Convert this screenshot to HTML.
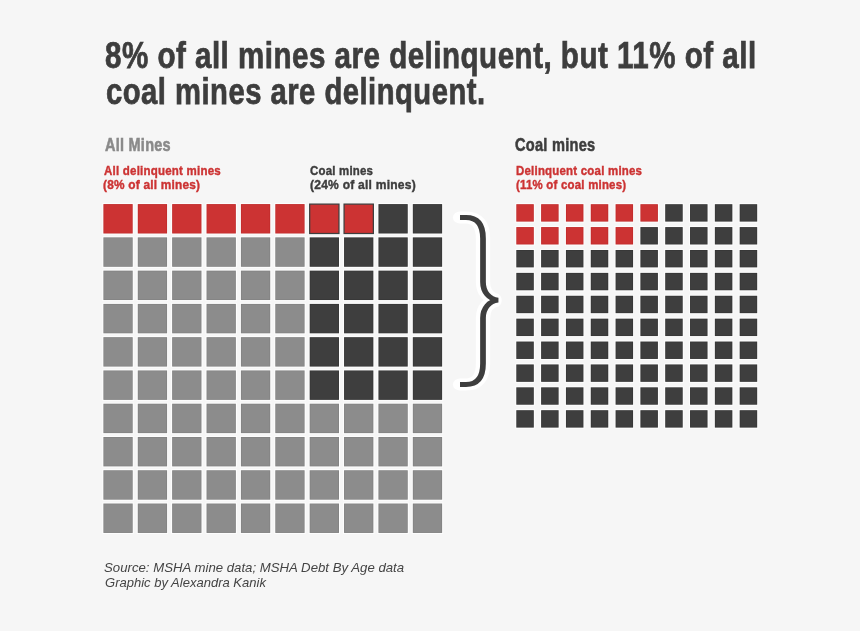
<!DOCTYPE html>
<html><head><meta charset="utf-8"><title>Delinquent mines</title>
<style>
html,body{margin:0;padding:0;background:#f6f6f6;width:860px;height:631px;overflow:hidden}
body{position:relative;font-family:"Liberation Sans",Arial,sans-serif}
.t{position:absolute;white-space:nowrap;transform-origin:0 0;margin:0;font-weight:normal}
</style></head><body>
<svg width="860" height="631" viewBox="0 0 860 631" style="position:absolute;left:0;top:0">
<defs><filter id="bl" x="-20%" y="-5%" width="140%" height="110%"><feGaussianBlur stdDeviation="0.6"/></filter></defs>
<g opacity="0.85"><rect x="102.40" y="203.10" width="31.30" height="31.40" fill="#fff"/><rect x="136.78" y="203.10" width="31.30" height="31.40" fill="#fff"/><rect x="171.16" y="203.10" width="31.30" height="31.40" fill="#fff"/><rect x="205.54" y="203.10" width="31.30" height="31.40" fill="#fff"/><rect x="239.92" y="203.10" width="31.30" height="31.40" fill="#fff"/><rect x="274.30" y="203.10" width="31.30" height="31.40" fill="#fff"/><rect x="308.68" y="203.10" width="31.30" height="31.40" fill="#fff"/><rect x="343.06" y="203.10" width="31.30" height="31.40" fill="#fff"/><rect x="377.44" y="203.10" width="31.30" height="31.40" fill="#fff"/><rect x="411.82" y="203.10" width="31.30" height="31.40" fill="#fff"/><rect x="102.40" y="236.37" width="31.30" height="31.40" fill="#fff"/><rect x="136.78" y="236.37" width="31.30" height="31.40" fill="#fff"/><rect x="171.16" y="236.37" width="31.30" height="31.40" fill="#fff"/><rect x="205.54" y="236.37" width="31.30" height="31.40" fill="#fff"/><rect x="239.92" y="236.37" width="31.30" height="31.40" fill="#fff"/><rect x="274.30" y="236.37" width="31.30" height="31.40" fill="#fff"/><rect x="308.68" y="236.37" width="31.30" height="31.40" fill="#fff"/><rect x="343.06" y="236.37" width="31.30" height="31.40" fill="#fff"/><rect x="377.44" y="236.37" width="31.30" height="31.40" fill="#fff"/><rect x="411.82" y="236.37" width="31.30" height="31.40" fill="#fff"/><rect x="102.40" y="269.64" width="31.30" height="31.40" fill="#fff"/><rect x="136.78" y="269.64" width="31.30" height="31.40" fill="#fff"/><rect x="171.16" y="269.64" width="31.30" height="31.40" fill="#fff"/><rect x="205.54" y="269.64" width="31.30" height="31.40" fill="#fff"/><rect x="239.92" y="269.64" width="31.30" height="31.40" fill="#fff"/><rect x="274.30" y="269.64" width="31.30" height="31.40" fill="#fff"/><rect x="308.68" y="269.64" width="31.30" height="31.40" fill="#fff"/><rect x="343.06" y="269.64" width="31.30" height="31.40" fill="#fff"/><rect x="377.44" y="269.64" width="31.30" height="31.40" fill="#fff"/><rect x="411.82" y="269.64" width="31.30" height="31.40" fill="#fff"/><rect x="102.40" y="302.91" width="31.30" height="31.40" fill="#fff"/><rect x="136.78" y="302.91" width="31.30" height="31.40" fill="#fff"/><rect x="171.16" y="302.91" width="31.30" height="31.40" fill="#fff"/><rect x="205.54" y="302.91" width="31.30" height="31.40" fill="#fff"/><rect x="239.92" y="302.91" width="31.30" height="31.40" fill="#fff"/><rect x="274.30" y="302.91" width="31.30" height="31.40" fill="#fff"/><rect x="308.68" y="302.91" width="31.30" height="31.40" fill="#fff"/><rect x="343.06" y="302.91" width="31.30" height="31.40" fill="#fff"/><rect x="377.44" y="302.91" width="31.30" height="31.40" fill="#fff"/><rect x="411.82" y="302.91" width="31.30" height="31.40" fill="#fff"/><rect x="102.40" y="336.18" width="31.30" height="31.40" fill="#fff"/><rect x="136.78" y="336.18" width="31.30" height="31.40" fill="#fff"/><rect x="171.16" y="336.18" width="31.30" height="31.40" fill="#fff"/><rect x="205.54" y="336.18" width="31.30" height="31.40" fill="#fff"/><rect x="239.92" y="336.18" width="31.30" height="31.40" fill="#fff"/><rect x="274.30" y="336.18" width="31.30" height="31.40" fill="#fff"/><rect x="308.68" y="336.18" width="31.30" height="31.40" fill="#fff"/><rect x="343.06" y="336.18" width="31.30" height="31.40" fill="#fff"/><rect x="377.44" y="336.18" width="31.30" height="31.40" fill="#fff"/><rect x="411.82" y="336.18" width="31.30" height="31.40" fill="#fff"/><rect x="102.40" y="369.45" width="31.30" height="31.40" fill="#fff"/><rect x="136.78" y="369.45" width="31.30" height="31.40" fill="#fff"/><rect x="171.16" y="369.45" width="31.30" height="31.40" fill="#fff"/><rect x="205.54" y="369.45" width="31.30" height="31.40" fill="#fff"/><rect x="239.92" y="369.45" width="31.30" height="31.40" fill="#fff"/><rect x="274.30" y="369.45" width="31.30" height="31.40" fill="#fff"/><rect x="308.68" y="369.45" width="31.30" height="31.40" fill="#fff"/><rect x="343.06" y="369.45" width="31.30" height="31.40" fill="#fff"/><rect x="377.44" y="369.45" width="31.30" height="31.40" fill="#fff"/><rect x="411.82" y="369.45" width="31.30" height="31.40" fill="#fff"/><rect x="102.40" y="402.72" width="31.30" height="31.40" fill="#fff"/><rect x="136.78" y="402.72" width="31.30" height="31.40" fill="#fff"/><rect x="171.16" y="402.72" width="31.30" height="31.40" fill="#fff"/><rect x="205.54" y="402.72" width="31.30" height="31.40" fill="#fff"/><rect x="239.92" y="402.72" width="31.30" height="31.40" fill="#fff"/><rect x="274.30" y="402.72" width="31.30" height="31.40" fill="#fff"/><rect x="308.68" y="402.72" width="31.30" height="31.40" fill="#fff"/><rect x="343.06" y="402.72" width="31.30" height="31.40" fill="#fff"/><rect x="377.44" y="402.72" width="31.30" height="31.40" fill="#fff"/><rect x="411.82" y="402.72" width="31.30" height="31.40" fill="#fff"/><rect x="102.40" y="435.99" width="31.30" height="31.40" fill="#fff"/><rect x="136.78" y="435.99" width="31.30" height="31.40" fill="#fff"/><rect x="171.16" y="435.99" width="31.30" height="31.40" fill="#fff"/><rect x="205.54" y="435.99" width="31.30" height="31.40" fill="#fff"/><rect x="239.92" y="435.99" width="31.30" height="31.40" fill="#fff"/><rect x="274.30" y="435.99" width="31.30" height="31.40" fill="#fff"/><rect x="308.68" y="435.99" width="31.30" height="31.40" fill="#fff"/><rect x="343.06" y="435.99" width="31.30" height="31.40" fill="#fff"/><rect x="377.44" y="435.99" width="31.30" height="31.40" fill="#fff"/><rect x="411.82" y="435.99" width="31.30" height="31.40" fill="#fff"/><rect x="102.40" y="469.26" width="31.30" height="31.40" fill="#fff"/><rect x="136.78" y="469.26" width="31.30" height="31.40" fill="#fff"/><rect x="171.16" y="469.26" width="31.30" height="31.40" fill="#fff"/><rect x="205.54" y="469.26" width="31.30" height="31.40" fill="#fff"/><rect x="239.92" y="469.26" width="31.30" height="31.40" fill="#fff"/><rect x="274.30" y="469.26" width="31.30" height="31.40" fill="#fff"/><rect x="308.68" y="469.26" width="31.30" height="31.40" fill="#fff"/><rect x="343.06" y="469.26" width="31.30" height="31.40" fill="#fff"/><rect x="377.44" y="469.26" width="31.30" height="31.40" fill="#fff"/><rect x="411.82" y="469.26" width="31.30" height="31.40" fill="#fff"/><rect x="102.40" y="502.53" width="31.30" height="31.40" fill="#fff"/><rect x="136.78" y="502.53" width="31.30" height="31.40" fill="#fff"/><rect x="171.16" y="502.53" width="31.30" height="31.40" fill="#fff"/><rect x="205.54" y="502.53" width="31.30" height="31.40" fill="#fff"/><rect x="239.92" y="502.53" width="31.30" height="31.40" fill="#fff"/><rect x="274.30" y="502.53" width="31.30" height="31.40" fill="#fff"/><rect x="308.68" y="502.53" width="31.30" height="31.40" fill="#fff"/><rect x="343.06" y="502.53" width="31.30" height="31.40" fill="#fff"/><rect x="377.44" y="502.53" width="31.30" height="31.40" fill="#fff"/><rect x="411.82" y="502.53" width="31.30" height="31.40" fill="#fff"/><rect x="515.30" y="203.20" width="19.50" height="19.40" fill="#fff"/><rect x="540.12" y="203.20" width="19.50" height="19.40" fill="#fff"/><rect x="564.94" y="203.20" width="19.50" height="19.40" fill="#fff"/><rect x="589.76" y="203.20" width="19.50" height="19.40" fill="#fff"/><rect x="614.58" y="203.20" width="19.50" height="19.40" fill="#fff"/><rect x="639.40" y="203.20" width="19.50" height="19.40" fill="#fff"/><rect x="664.22" y="203.20" width="19.50" height="19.40" fill="#fff"/><rect x="689.04" y="203.20" width="19.50" height="19.40" fill="#fff"/><rect x="713.86" y="203.20" width="19.50" height="19.40" fill="#fff"/><rect x="738.68" y="203.20" width="19.50" height="19.40" fill="#fff"/><rect x="515.30" y="226.09" width="19.50" height="19.40" fill="#fff"/><rect x="540.12" y="226.09" width="19.50" height="19.40" fill="#fff"/><rect x="564.94" y="226.09" width="19.50" height="19.40" fill="#fff"/><rect x="589.76" y="226.09" width="19.50" height="19.40" fill="#fff"/><rect x="614.58" y="226.09" width="19.50" height="19.40" fill="#fff"/><rect x="639.40" y="226.09" width="19.50" height="19.40" fill="#fff"/><rect x="664.22" y="226.09" width="19.50" height="19.40" fill="#fff"/><rect x="689.04" y="226.09" width="19.50" height="19.40" fill="#fff"/><rect x="713.86" y="226.09" width="19.50" height="19.40" fill="#fff"/><rect x="738.68" y="226.09" width="19.50" height="19.40" fill="#fff"/><rect x="515.30" y="248.98" width="19.50" height="19.40" fill="#fff"/><rect x="540.12" y="248.98" width="19.50" height="19.40" fill="#fff"/><rect x="564.94" y="248.98" width="19.50" height="19.40" fill="#fff"/><rect x="589.76" y="248.98" width="19.50" height="19.40" fill="#fff"/><rect x="614.58" y="248.98" width="19.50" height="19.40" fill="#fff"/><rect x="639.40" y="248.98" width="19.50" height="19.40" fill="#fff"/><rect x="664.22" y="248.98" width="19.50" height="19.40" fill="#fff"/><rect x="689.04" y="248.98" width="19.50" height="19.40" fill="#fff"/><rect x="713.86" y="248.98" width="19.50" height="19.40" fill="#fff"/><rect x="738.68" y="248.98" width="19.50" height="19.40" fill="#fff"/><rect x="515.30" y="271.87" width="19.50" height="19.40" fill="#fff"/><rect x="540.12" y="271.87" width="19.50" height="19.40" fill="#fff"/><rect x="564.94" y="271.87" width="19.50" height="19.40" fill="#fff"/><rect x="589.76" y="271.87" width="19.50" height="19.40" fill="#fff"/><rect x="614.58" y="271.87" width="19.50" height="19.40" fill="#fff"/><rect x="639.40" y="271.87" width="19.50" height="19.40" fill="#fff"/><rect x="664.22" y="271.87" width="19.50" height="19.40" fill="#fff"/><rect x="689.04" y="271.87" width="19.50" height="19.40" fill="#fff"/><rect x="713.86" y="271.87" width="19.50" height="19.40" fill="#fff"/><rect x="738.68" y="271.87" width="19.50" height="19.40" fill="#fff"/><rect x="515.30" y="294.76" width="19.50" height="19.40" fill="#fff"/><rect x="540.12" y="294.76" width="19.50" height="19.40" fill="#fff"/><rect x="564.94" y="294.76" width="19.50" height="19.40" fill="#fff"/><rect x="589.76" y="294.76" width="19.50" height="19.40" fill="#fff"/><rect x="614.58" y="294.76" width="19.50" height="19.40" fill="#fff"/><rect x="639.40" y="294.76" width="19.50" height="19.40" fill="#fff"/><rect x="664.22" y="294.76" width="19.50" height="19.40" fill="#fff"/><rect x="689.04" y="294.76" width="19.50" height="19.40" fill="#fff"/><rect x="713.86" y="294.76" width="19.50" height="19.40" fill="#fff"/><rect x="738.68" y="294.76" width="19.50" height="19.40" fill="#fff"/><rect x="515.30" y="317.65" width="19.50" height="19.40" fill="#fff"/><rect x="540.12" y="317.65" width="19.50" height="19.40" fill="#fff"/><rect x="564.94" y="317.65" width="19.50" height="19.40" fill="#fff"/><rect x="589.76" y="317.65" width="19.50" height="19.40" fill="#fff"/><rect x="614.58" y="317.65" width="19.50" height="19.40" fill="#fff"/><rect x="639.40" y="317.65" width="19.50" height="19.40" fill="#fff"/><rect x="664.22" y="317.65" width="19.50" height="19.40" fill="#fff"/><rect x="689.04" y="317.65" width="19.50" height="19.40" fill="#fff"/><rect x="713.86" y="317.65" width="19.50" height="19.40" fill="#fff"/><rect x="738.68" y="317.65" width="19.50" height="19.40" fill="#fff"/><rect x="515.30" y="340.54" width="19.50" height="19.40" fill="#fff"/><rect x="540.12" y="340.54" width="19.50" height="19.40" fill="#fff"/><rect x="564.94" y="340.54" width="19.50" height="19.40" fill="#fff"/><rect x="589.76" y="340.54" width="19.50" height="19.40" fill="#fff"/><rect x="614.58" y="340.54" width="19.50" height="19.40" fill="#fff"/><rect x="639.40" y="340.54" width="19.50" height="19.40" fill="#fff"/><rect x="664.22" y="340.54" width="19.50" height="19.40" fill="#fff"/><rect x="689.04" y="340.54" width="19.50" height="19.40" fill="#fff"/><rect x="713.86" y="340.54" width="19.50" height="19.40" fill="#fff"/><rect x="738.68" y="340.54" width="19.50" height="19.40" fill="#fff"/><rect x="515.30" y="363.43" width="19.50" height="19.40" fill="#fff"/><rect x="540.12" y="363.43" width="19.50" height="19.40" fill="#fff"/><rect x="564.94" y="363.43" width="19.50" height="19.40" fill="#fff"/><rect x="589.76" y="363.43" width="19.50" height="19.40" fill="#fff"/><rect x="614.58" y="363.43" width="19.50" height="19.40" fill="#fff"/><rect x="639.40" y="363.43" width="19.50" height="19.40" fill="#fff"/><rect x="664.22" y="363.43" width="19.50" height="19.40" fill="#fff"/><rect x="689.04" y="363.43" width="19.50" height="19.40" fill="#fff"/><rect x="713.86" y="363.43" width="19.50" height="19.40" fill="#fff"/><rect x="738.68" y="363.43" width="19.50" height="19.40" fill="#fff"/><rect x="515.30" y="386.32" width="19.50" height="19.40" fill="#fff"/><rect x="540.12" y="386.32" width="19.50" height="19.40" fill="#fff"/><rect x="564.94" y="386.32" width="19.50" height="19.40" fill="#fff"/><rect x="589.76" y="386.32" width="19.50" height="19.40" fill="#fff"/><rect x="614.58" y="386.32" width="19.50" height="19.40" fill="#fff"/><rect x="639.40" y="386.32" width="19.50" height="19.40" fill="#fff"/><rect x="664.22" y="386.32" width="19.50" height="19.40" fill="#fff"/><rect x="689.04" y="386.32" width="19.50" height="19.40" fill="#fff"/><rect x="713.86" y="386.32" width="19.50" height="19.40" fill="#fff"/><rect x="738.68" y="386.32" width="19.50" height="19.40" fill="#fff"/><rect x="515.30" y="409.21" width="19.50" height="19.40" fill="#fff"/><rect x="540.12" y="409.21" width="19.50" height="19.40" fill="#fff"/><rect x="564.94" y="409.21" width="19.50" height="19.40" fill="#fff"/><rect x="589.76" y="409.21" width="19.50" height="19.40" fill="#fff"/><rect x="614.58" y="409.21" width="19.50" height="19.40" fill="#fff"/><rect x="639.40" y="409.21" width="19.50" height="19.40" fill="#fff"/><rect x="664.22" y="409.21" width="19.50" height="19.40" fill="#fff"/><rect x="689.04" y="409.21" width="19.50" height="19.40" fill="#fff"/><rect x="713.86" y="409.21" width="19.50" height="19.40" fill="#fff"/><rect x="738.68" y="409.21" width="19.50" height="19.40" fill="#fff"/></g>
<g><rect x="103.40" y="204.10" width="29.30" height="29.40" fill="#c02a2a"/><rect x="104.10" y="204.80" width="27.90" height="28.00" fill="#cc3333"/><rect x="137.78" y="204.10" width="29.30" height="29.40" fill="#c02a2a"/><rect x="138.48" y="204.80" width="27.90" height="28.00" fill="#cc3333"/><rect x="172.16" y="204.10" width="29.30" height="29.40" fill="#c02a2a"/><rect x="172.86" y="204.80" width="27.90" height="28.00" fill="#cc3333"/><rect x="206.54" y="204.10" width="29.30" height="29.40" fill="#c02a2a"/><rect x="207.24" y="204.80" width="27.90" height="28.00" fill="#cc3333"/><rect x="240.92" y="204.10" width="29.30" height="29.40" fill="#c02a2a"/><rect x="241.62" y="204.80" width="27.90" height="28.00" fill="#cc3333"/><rect x="275.30" y="204.10" width="29.30" height="29.40" fill="#c02a2a"/><rect x="276.00" y="204.80" width="27.90" height="28.00" fill="#cc3333"/><rect x="309.68" y="204.10" width="29.30" height="29.40" fill="#cc3333" stroke="#3e3e3e" stroke-width="1.25"/><rect x="344.06" y="204.10" width="29.30" height="29.40" fill="#cc3333" stroke="#3e3e3e" stroke-width="1.25"/><rect x="378.44" y="204.10" width="29.30" height="29.40" fill="#363636"/><rect x="379.14" y="204.80" width="27.90" height="28.00" fill="#3e3e3e"/><rect x="412.82" y="204.10" width="29.30" height="29.40" fill="#363636"/><rect x="413.52" y="204.80" width="27.90" height="28.00" fill="#3e3e3e"/><rect x="103.40" y="237.37" width="29.30" height="29.40" fill="#818181"/><rect x="104.10" y="238.07" width="27.90" height="28.00" fill="#8c8c8c"/><rect x="137.78" y="237.37" width="29.30" height="29.40" fill="#818181"/><rect x="138.48" y="238.07" width="27.90" height="28.00" fill="#8c8c8c"/><rect x="172.16" y="237.37" width="29.30" height="29.40" fill="#818181"/><rect x="172.86" y="238.07" width="27.90" height="28.00" fill="#8c8c8c"/><rect x="206.54" y="237.37" width="29.30" height="29.40" fill="#818181"/><rect x="207.24" y="238.07" width="27.90" height="28.00" fill="#8c8c8c"/><rect x="240.92" y="237.37" width="29.30" height="29.40" fill="#818181"/><rect x="241.62" y="238.07" width="27.90" height="28.00" fill="#8c8c8c"/><rect x="275.30" y="237.37" width="29.30" height="29.40" fill="#818181"/><rect x="276.00" y="238.07" width="27.90" height="28.00" fill="#8c8c8c"/><rect x="309.68" y="237.37" width="29.30" height="29.40" fill="#363636"/><rect x="310.38" y="238.07" width="27.90" height="28.00" fill="#3e3e3e"/><rect x="344.06" y="237.37" width="29.30" height="29.40" fill="#363636"/><rect x="344.76" y="238.07" width="27.90" height="28.00" fill="#3e3e3e"/><rect x="378.44" y="237.37" width="29.30" height="29.40" fill="#363636"/><rect x="379.14" y="238.07" width="27.90" height="28.00" fill="#3e3e3e"/><rect x="412.82" y="237.37" width="29.30" height="29.40" fill="#363636"/><rect x="413.52" y="238.07" width="27.90" height="28.00" fill="#3e3e3e"/><rect x="103.40" y="270.64" width="29.30" height="29.40" fill="#818181"/><rect x="104.10" y="271.34" width="27.90" height="28.00" fill="#8c8c8c"/><rect x="137.78" y="270.64" width="29.30" height="29.40" fill="#818181"/><rect x="138.48" y="271.34" width="27.90" height="28.00" fill="#8c8c8c"/><rect x="172.16" y="270.64" width="29.30" height="29.40" fill="#818181"/><rect x="172.86" y="271.34" width="27.90" height="28.00" fill="#8c8c8c"/><rect x="206.54" y="270.64" width="29.30" height="29.40" fill="#818181"/><rect x="207.24" y="271.34" width="27.90" height="28.00" fill="#8c8c8c"/><rect x="240.92" y="270.64" width="29.30" height="29.40" fill="#818181"/><rect x="241.62" y="271.34" width="27.90" height="28.00" fill="#8c8c8c"/><rect x="275.30" y="270.64" width="29.30" height="29.40" fill="#818181"/><rect x="276.00" y="271.34" width="27.90" height="28.00" fill="#8c8c8c"/><rect x="309.68" y="270.64" width="29.30" height="29.40" fill="#363636"/><rect x="310.38" y="271.34" width="27.90" height="28.00" fill="#3e3e3e"/><rect x="344.06" y="270.64" width="29.30" height="29.40" fill="#363636"/><rect x="344.76" y="271.34" width="27.90" height="28.00" fill="#3e3e3e"/><rect x="378.44" y="270.64" width="29.30" height="29.40" fill="#363636"/><rect x="379.14" y="271.34" width="27.90" height="28.00" fill="#3e3e3e"/><rect x="412.82" y="270.64" width="29.30" height="29.40" fill="#363636"/><rect x="413.52" y="271.34" width="27.90" height="28.00" fill="#3e3e3e"/><rect x="103.40" y="303.91" width="29.30" height="29.40" fill="#818181"/><rect x="104.10" y="304.61" width="27.90" height="28.00" fill="#8c8c8c"/><rect x="137.78" y="303.91" width="29.30" height="29.40" fill="#818181"/><rect x="138.48" y="304.61" width="27.90" height="28.00" fill="#8c8c8c"/><rect x="172.16" y="303.91" width="29.30" height="29.40" fill="#818181"/><rect x="172.86" y="304.61" width="27.90" height="28.00" fill="#8c8c8c"/><rect x="206.54" y="303.91" width="29.30" height="29.40" fill="#818181"/><rect x="207.24" y="304.61" width="27.90" height="28.00" fill="#8c8c8c"/><rect x="240.92" y="303.91" width="29.30" height="29.40" fill="#818181"/><rect x="241.62" y="304.61" width="27.90" height="28.00" fill="#8c8c8c"/><rect x="275.30" y="303.91" width="29.30" height="29.40" fill="#818181"/><rect x="276.00" y="304.61" width="27.90" height="28.00" fill="#8c8c8c"/><rect x="309.68" y="303.91" width="29.30" height="29.40" fill="#363636"/><rect x="310.38" y="304.61" width="27.90" height="28.00" fill="#3e3e3e"/><rect x="344.06" y="303.91" width="29.30" height="29.40" fill="#363636"/><rect x="344.76" y="304.61" width="27.90" height="28.00" fill="#3e3e3e"/><rect x="378.44" y="303.91" width="29.30" height="29.40" fill="#363636"/><rect x="379.14" y="304.61" width="27.90" height="28.00" fill="#3e3e3e"/><rect x="412.82" y="303.91" width="29.30" height="29.40" fill="#363636"/><rect x="413.52" y="304.61" width="27.90" height="28.00" fill="#3e3e3e"/><rect x="103.40" y="337.18" width="29.30" height="29.40" fill="#818181"/><rect x="104.10" y="337.88" width="27.90" height="28.00" fill="#8c8c8c"/><rect x="137.78" y="337.18" width="29.30" height="29.40" fill="#818181"/><rect x="138.48" y="337.88" width="27.90" height="28.00" fill="#8c8c8c"/><rect x="172.16" y="337.18" width="29.30" height="29.40" fill="#818181"/><rect x="172.86" y="337.88" width="27.90" height="28.00" fill="#8c8c8c"/><rect x="206.54" y="337.18" width="29.30" height="29.40" fill="#818181"/><rect x="207.24" y="337.88" width="27.90" height="28.00" fill="#8c8c8c"/><rect x="240.92" y="337.18" width="29.30" height="29.40" fill="#818181"/><rect x="241.62" y="337.88" width="27.90" height="28.00" fill="#8c8c8c"/><rect x="275.30" y="337.18" width="29.30" height="29.40" fill="#818181"/><rect x="276.00" y="337.88" width="27.90" height="28.00" fill="#8c8c8c"/><rect x="309.68" y="337.18" width="29.30" height="29.40" fill="#363636"/><rect x="310.38" y="337.88" width="27.90" height="28.00" fill="#3e3e3e"/><rect x="344.06" y="337.18" width="29.30" height="29.40" fill="#363636"/><rect x="344.76" y="337.88" width="27.90" height="28.00" fill="#3e3e3e"/><rect x="378.44" y="337.18" width="29.30" height="29.40" fill="#363636"/><rect x="379.14" y="337.88" width="27.90" height="28.00" fill="#3e3e3e"/><rect x="412.82" y="337.18" width="29.30" height="29.40" fill="#363636"/><rect x="413.52" y="337.88" width="27.90" height="28.00" fill="#3e3e3e"/><rect x="103.40" y="370.45" width="29.30" height="29.40" fill="#818181"/><rect x="104.10" y="371.15" width="27.90" height="28.00" fill="#8c8c8c"/><rect x="137.78" y="370.45" width="29.30" height="29.40" fill="#818181"/><rect x="138.48" y="371.15" width="27.90" height="28.00" fill="#8c8c8c"/><rect x="172.16" y="370.45" width="29.30" height="29.40" fill="#818181"/><rect x="172.86" y="371.15" width="27.90" height="28.00" fill="#8c8c8c"/><rect x="206.54" y="370.45" width="29.30" height="29.40" fill="#818181"/><rect x="207.24" y="371.15" width="27.90" height="28.00" fill="#8c8c8c"/><rect x="240.92" y="370.45" width="29.30" height="29.40" fill="#818181"/><rect x="241.62" y="371.15" width="27.90" height="28.00" fill="#8c8c8c"/><rect x="275.30" y="370.45" width="29.30" height="29.40" fill="#818181"/><rect x="276.00" y="371.15" width="27.90" height="28.00" fill="#8c8c8c"/><rect x="309.68" y="370.45" width="29.30" height="29.40" fill="#363636"/><rect x="310.38" y="371.15" width="27.90" height="28.00" fill="#3e3e3e"/><rect x="344.06" y="370.45" width="29.30" height="29.40" fill="#363636"/><rect x="344.76" y="371.15" width="27.90" height="28.00" fill="#3e3e3e"/><rect x="378.44" y="370.45" width="29.30" height="29.40" fill="#363636"/><rect x="379.14" y="371.15" width="27.90" height="28.00" fill="#3e3e3e"/><rect x="412.82" y="370.45" width="29.30" height="29.40" fill="#363636"/><rect x="413.52" y="371.15" width="27.90" height="28.00" fill="#3e3e3e"/><rect x="103.40" y="403.72" width="29.30" height="29.40" fill="#818181"/><rect x="104.10" y="404.42" width="27.90" height="28.00" fill="#8c8c8c"/><rect x="137.78" y="403.72" width="29.30" height="29.40" fill="#818181"/><rect x="138.48" y="404.42" width="27.90" height="28.00" fill="#8c8c8c"/><rect x="172.16" y="403.72" width="29.30" height="29.40" fill="#818181"/><rect x="172.86" y="404.42" width="27.90" height="28.00" fill="#8c8c8c"/><rect x="206.54" y="403.72" width="29.30" height="29.40" fill="#818181"/><rect x="207.24" y="404.42" width="27.90" height="28.00" fill="#8c8c8c"/><rect x="240.92" y="403.72" width="29.30" height="29.40" fill="#818181"/><rect x="241.62" y="404.42" width="27.90" height="28.00" fill="#8c8c8c"/><rect x="275.30" y="403.72" width="29.30" height="29.40" fill="#818181"/><rect x="276.00" y="404.42" width="27.90" height="28.00" fill="#8c8c8c"/><rect x="309.68" y="403.72" width="29.30" height="29.40" fill="#818181"/><rect x="310.38" y="404.42" width="27.90" height="28.00" fill="#8c8c8c"/><rect x="344.06" y="403.72" width="29.30" height="29.40" fill="#818181"/><rect x="344.76" y="404.42" width="27.90" height="28.00" fill="#8c8c8c"/><rect x="378.44" y="403.72" width="29.30" height="29.40" fill="#818181"/><rect x="379.14" y="404.42" width="27.90" height="28.00" fill="#8c8c8c"/><rect x="412.82" y="403.72" width="29.30" height="29.40" fill="#818181"/><rect x="413.52" y="404.42" width="27.90" height="28.00" fill="#8c8c8c"/><rect x="103.40" y="436.99" width="29.30" height="29.40" fill="#818181"/><rect x="104.10" y="437.69" width="27.90" height="28.00" fill="#8c8c8c"/><rect x="137.78" y="436.99" width="29.30" height="29.40" fill="#818181"/><rect x="138.48" y="437.69" width="27.90" height="28.00" fill="#8c8c8c"/><rect x="172.16" y="436.99" width="29.30" height="29.40" fill="#818181"/><rect x="172.86" y="437.69" width="27.90" height="28.00" fill="#8c8c8c"/><rect x="206.54" y="436.99" width="29.30" height="29.40" fill="#818181"/><rect x="207.24" y="437.69" width="27.90" height="28.00" fill="#8c8c8c"/><rect x="240.92" y="436.99" width="29.30" height="29.40" fill="#818181"/><rect x="241.62" y="437.69" width="27.90" height="28.00" fill="#8c8c8c"/><rect x="275.30" y="436.99" width="29.30" height="29.40" fill="#818181"/><rect x="276.00" y="437.69" width="27.90" height="28.00" fill="#8c8c8c"/><rect x="309.68" y="436.99" width="29.30" height="29.40" fill="#818181"/><rect x="310.38" y="437.69" width="27.90" height="28.00" fill="#8c8c8c"/><rect x="344.06" y="436.99" width="29.30" height="29.40" fill="#818181"/><rect x="344.76" y="437.69" width="27.90" height="28.00" fill="#8c8c8c"/><rect x="378.44" y="436.99" width="29.30" height="29.40" fill="#818181"/><rect x="379.14" y="437.69" width="27.90" height="28.00" fill="#8c8c8c"/><rect x="412.82" y="436.99" width="29.30" height="29.40" fill="#818181"/><rect x="413.52" y="437.69" width="27.90" height="28.00" fill="#8c8c8c"/><rect x="103.40" y="470.26" width="29.30" height="29.40" fill="#818181"/><rect x="104.10" y="470.96" width="27.90" height="28.00" fill="#8c8c8c"/><rect x="137.78" y="470.26" width="29.30" height="29.40" fill="#818181"/><rect x="138.48" y="470.96" width="27.90" height="28.00" fill="#8c8c8c"/><rect x="172.16" y="470.26" width="29.30" height="29.40" fill="#818181"/><rect x="172.86" y="470.96" width="27.90" height="28.00" fill="#8c8c8c"/><rect x="206.54" y="470.26" width="29.30" height="29.40" fill="#818181"/><rect x="207.24" y="470.96" width="27.90" height="28.00" fill="#8c8c8c"/><rect x="240.92" y="470.26" width="29.30" height="29.40" fill="#818181"/><rect x="241.62" y="470.96" width="27.90" height="28.00" fill="#8c8c8c"/><rect x="275.30" y="470.26" width="29.30" height="29.40" fill="#818181"/><rect x="276.00" y="470.96" width="27.90" height="28.00" fill="#8c8c8c"/><rect x="309.68" y="470.26" width="29.30" height="29.40" fill="#818181"/><rect x="310.38" y="470.96" width="27.90" height="28.00" fill="#8c8c8c"/><rect x="344.06" y="470.26" width="29.30" height="29.40" fill="#818181"/><rect x="344.76" y="470.96" width="27.90" height="28.00" fill="#8c8c8c"/><rect x="378.44" y="470.26" width="29.30" height="29.40" fill="#818181"/><rect x="379.14" y="470.96" width="27.90" height="28.00" fill="#8c8c8c"/><rect x="412.82" y="470.26" width="29.30" height="29.40" fill="#818181"/><rect x="413.52" y="470.96" width="27.90" height="28.00" fill="#8c8c8c"/><rect x="103.40" y="503.53" width="29.30" height="29.40" fill="#818181"/><rect x="104.10" y="504.23" width="27.90" height="28.00" fill="#8c8c8c"/><rect x="137.78" y="503.53" width="29.30" height="29.40" fill="#818181"/><rect x="138.48" y="504.23" width="27.90" height="28.00" fill="#8c8c8c"/><rect x="172.16" y="503.53" width="29.30" height="29.40" fill="#818181"/><rect x="172.86" y="504.23" width="27.90" height="28.00" fill="#8c8c8c"/><rect x="206.54" y="503.53" width="29.30" height="29.40" fill="#818181"/><rect x="207.24" y="504.23" width="27.90" height="28.00" fill="#8c8c8c"/><rect x="240.92" y="503.53" width="29.30" height="29.40" fill="#818181"/><rect x="241.62" y="504.23" width="27.90" height="28.00" fill="#8c8c8c"/><rect x="275.30" y="503.53" width="29.30" height="29.40" fill="#818181"/><rect x="276.00" y="504.23" width="27.90" height="28.00" fill="#8c8c8c"/><rect x="309.68" y="503.53" width="29.30" height="29.40" fill="#818181"/><rect x="310.38" y="504.23" width="27.90" height="28.00" fill="#8c8c8c"/><rect x="344.06" y="503.53" width="29.30" height="29.40" fill="#818181"/><rect x="344.76" y="504.23" width="27.90" height="28.00" fill="#8c8c8c"/><rect x="378.44" y="503.53" width="29.30" height="29.40" fill="#818181"/><rect x="379.14" y="504.23" width="27.90" height="28.00" fill="#8c8c8c"/><rect x="412.82" y="503.53" width="29.30" height="29.40" fill="#818181"/><rect x="413.52" y="504.23" width="27.90" height="28.00" fill="#8c8c8c"/><rect x="516.30" y="204.20" width="17.50" height="17.40" fill="#c02a2a"/><rect x="517.00" y="204.90" width="16.10" height="16.00" fill="#cc3333"/><rect x="541.12" y="204.20" width="17.50" height="17.40" fill="#c02a2a"/><rect x="541.82" y="204.90" width="16.10" height="16.00" fill="#cc3333"/><rect x="565.94" y="204.20" width="17.50" height="17.40" fill="#c02a2a"/><rect x="566.64" y="204.90" width="16.10" height="16.00" fill="#cc3333"/><rect x="590.76" y="204.20" width="17.50" height="17.40" fill="#c02a2a"/><rect x="591.46" y="204.90" width="16.10" height="16.00" fill="#cc3333"/><rect x="615.58" y="204.20" width="17.50" height="17.40" fill="#c02a2a"/><rect x="616.28" y="204.90" width="16.10" height="16.00" fill="#cc3333"/><rect x="640.40" y="204.20" width="17.50" height="17.40" fill="#c02a2a"/><rect x="641.10" y="204.90" width="16.10" height="16.00" fill="#cc3333"/><rect x="665.22" y="204.20" width="17.50" height="17.40" fill="#363636"/><rect x="665.92" y="204.90" width="16.10" height="16.00" fill="#3e3e3e"/><rect x="690.04" y="204.20" width="17.50" height="17.40" fill="#363636"/><rect x="690.74" y="204.90" width="16.10" height="16.00" fill="#3e3e3e"/><rect x="714.86" y="204.20" width="17.50" height="17.40" fill="#363636"/><rect x="715.56" y="204.90" width="16.10" height="16.00" fill="#3e3e3e"/><rect x="739.68" y="204.20" width="17.50" height="17.40" fill="#363636"/><rect x="740.38" y="204.90" width="16.10" height="16.00" fill="#3e3e3e"/><rect x="516.30" y="227.09" width="17.50" height="17.40" fill="#c02a2a"/><rect x="517.00" y="227.79" width="16.10" height="16.00" fill="#cc3333"/><rect x="541.12" y="227.09" width="17.50" height="17.40" fill="#c02a2a"/><rect x="541.82" y="227.79" width="16.10" height="16.00" fill="#cc3333"/><rect x="565.94" y="227.09" width="17.50" height="17.40" fill="#c02a2a"/><rect x="566.64" y="227.79" width="16.10" height="16.00" fill="#cc3333"/><rect x="590.76" y="227.09" width="17.50" height="17.40" fill="#c02a2a"/><rect x="591.46" y="227.79" width="16.10" height="16.00" fill="#cc3333"/><rect x="615.58" y="227.09" width="17.50" height="17.40" fill="#c02a2a"/><rect x="616.28" y="227.79" width="16.10" height="16.00" fill="#cc3333"/><rect x="640.40" y="227.09" width="17.50" height="17.40" fill="#363636"/><rect x="641.10" y="227.79" width="16.10" height="16.00" fill="#3e3e3e"/><rect x="665.22" y="227.09" width="17.50" height="17.40" fill="#363636"/><rect x="665.92" y="227.79" width="16.10" height="16.00" fill="#3e3e3e"/><rect x="690.04" y="227.09" width="17.50" height="17.40" fill="#363636"/><rect x="690.74" y="227.79" width="16.10" height="16.00" fill="#3e3e3e"/><rect x="714.86" y="227.09" width="17.50" height="17.40" fill="#363636"/><rect x="715.56" y="227.79" width="16.10" height="16.00" fill="#3e3e3e"/><rect x="739.68" y="227.09" width="17.50" height="17.40" fill="#363636"/><rect x="740.38" y="227.79" width="16.10" height="16.00" fill="#3e3e3e"/><rect x="516.30" y="249.98" width="17.50" height="17.40" fill="#363636"/><rect x="517.00" y="250.68" width="16.10" height="16.00" fill="#3e3e3e"/><rect x="541.12" y="249.98" width="17.50" height="17.40" fill="#363636"/><rect x="541.82" y="250.68" width="16.10" height="16.00" fill="#3e3e3e"/><rect x="565.94" y="249.98" width="17.50" height="17.40" fill="#363636"/><rect x="566.64" y="250.68" width="16.10" height="16.00" fill="#3e3e3e"/><rect x="590.76" y="249.98" width="17.50" height="17.40" fill="#363636"/><rect x="591.46" y="250.68" width="16.10" height="16.00" fill="#3e3e3e"/><rect x="615.58" y="249.98" width="17.50" height="17.40" fill="#363636"/><rect x="616.28" y="250.68" width="16.10" height="16.00" fill="#3e3e3e"/><rect x="640.40" y="249.98" width="17.50" height="17.40" fill="#363636"/><rect x="641.10" y="250.68" width="16.10" height="16.00" fill="#3e3e3e"/><rect x="665.22" y="249.98" width="17.50" height="17.40" fill="#363636"/><rect x="665.92" y="250.68" width="16.10" height="16.00" fill="#3e3e3e"/><rect x="690.04" y="249.98" width="17.50" height="17.40" fill="#363636"/><rect x="690.74" y="250.68" width="16.10" height="16.00" fill="#3e3e3e"/><rect x="714.86" y="249.98" width="17.50" height="17.40" fill="#363636"/><rect x="715.56" y="250.68" width="16.10" height="16.00" fill="#3e3e3e"/><rect x="739.68" y="249.98" width="17.50" height="17.40" fill="#363636"/><rect x="740.38" y="250.68" width="16.10" height="16.00" fill="#3e3e3e"/><rect x="516.30" y="272.87" width="17.50" height="17.40" fill="#363636"/><rect x="517.00" y="273.57" width="16.10" height="16.00" fill="#3e3e3e"/><rect x="541.12" y="272.87" width="17.50" height="17.40" fill="#363636"/><rect x="541.82" y="273.57" width="16.10" height="16.00" fill="#3e3e3e"/><rect x="565.94" y="272.87" width="17.50" height="17.40" fill="#363636"/><rect x="566.64" y="273.57" width="16.10" height="16.00" fill="#3e3e3e"/><rect x="590.76" y="272.87" width="17.50" height="17.40" fill="#363636"/><rect x="591.46" y="273.57" width="16.10" height="16.00" fill="#3e3e3e"/><rect x="615.58" y="272.87" width="17.50" height="17.40" fill="#363636"/><rect x="616.28" y="273.57" width="16.10" height="16.00" fill="#3e3e3e"/><rect x="640.40" y="272.87" width="17.50" height="17.40" fill="#363636"/><rect x="641.10" y="273.57" width="16.10" height="16.00" fill="#3e3e3e"/><rect x="665.22" y="272.87" width="17.50" height="17.40" fill="#363636"/><rect x="665.92" y="273.57" width="16.10" height="16.00" fill="#3e3e3e"/><rect x="690.04" y="272.87" width="17.50" height="17.40" fill="#363636"/><rect x="690.74" y="273.57" width="16.10" height="16.00" fill="#3e3e3e"/><rect x="714.86" y="272.87" width="17.50" height="17.40" fill="#363636"/><rect x="715.56" y="273.57" width="16.10" height="16.00" fill="#3e3e3e"/><rect x="739.68" y="272.87" width="17.50" height="17.40" fill="#363636"/><rect x="740.38" y="273.57" width="16.10" height="16.00" fill="#3e3e3e"/><rect x="516.30" y="295.76" width="17.50" height="17.40" fill="#363636"/><rect x="517.00" y="296.46" width="16.10" height="16.00" fill="#3e3e3e"/><rect x="541.12" y="295.76" width="17.50" height="17.40" fill="#363636"/><rect x="541.82" y="296.46" width="16.10" height="16.00" fill="#3e3e3e"/><rect x="565.94" y="295.76" width="17.50" height="17.40" fill="#363636"/><rect x="566.64" y="296.46" width="16.10" height="16.00" fill="#3e3e3e"/><rect x="590.76" y="295.76" width="17.50" height="17.40" fill="#363636"/><rect x="591.46" y="296.46" width="16.10" height="16.00" fill="#3e3e3e"/><rect x="615.58" y="295.76" width="17.50" height="17.40" fill="#363636"/><rect x="616.28" y="296.46" width="16.10" height="16.00" fill="#3e3e3e"/><rect x="640.40" y="295.76" width="17.50" height="17.40" fill="#363636"/><rect x="641.10" y="296.46" width="16.10" height="16.00" fill="#3e3e3e"/><rect x="665.22" y="295.76" width="17.50" height="17.40" fill="#363636"/><rect x="665.92" y="296.46" width="16.10" height="16.00" fill="#3e3e3e"/><rect x="690.04" y="295.76" width="17.50" height="17.40" fill="#363636"/><rect x="690.74" y="296.46" width="16.10" height="16.00" fill="#3e3e3e"/><rect x="714.86" y="295.76" width="17.50" height="17.40" fill="#363636"/><rect x="715.56" y="296.46" width="16.10" height="16.00" fill="#3e3e3e"/><rect x="739.68" y="295.76" width="17.50" height="17.40" fill="#363636"/><rect x="740.38" y="296.46" width="16.10" height="16.00" fill="#3e3e3e"/><rect x="516.30" y="318.65" width="17.50" height="17.40" fill="#363636"/><rect x="517.00" y="319.35" width="16.10" height="16.00" fill="#3e3e3e"/><rect x="541.12" y="318.65" width="17.50" height="17.40" fill="#363636"/><rect x="541.82" y="319.35" width="16.10" height="16.00" fill="#3e3e3e"/><rect x="565.94" y="318.65" width="17.50" height="17.40" fill="#363636"/><rect x="566.64" y="319.35" width="16.10" height="16.00" fill="#3e3e3e"/><rect x="590.76" y="318.65" width="17.50" height="17.40" fill="#363636"/><rect x="591.46" y="319.35" width="16.10" height="16.00" fill="#3e3e3e"/><rect x="615.58" y="318.65" width="17.50" height="17.40" fill="#363636"/><rect x="616.28" y="319.35" width="16.10" height="16.00" fill="#3e3e3e"/><rect x="640.40" y="318.65" width="17.50" height="17.40" fill="#363636"/><rect x="641.10" y="319.35" width="16.10" height="16.00" fill="#3e3e3e"/><rect x="665.22" y="318.65" width="17.50" height="17.40" fill="#363636"/><rect x="665.92" y="319.35" width="16.10" height="16.00" fill="#3e3e3e"/><rect x="690.04" y="318.65" width="17.50" height="17.40" fill="#363636"/><rect x="690.74" y="319.35" width="16.10" height="16.00" fill="#3e3e3e"/><rect x="714.86" y="318.65" width="17.50" height="17.40" fill="#363636"/><rect x="715.56" y="319.35" width="16.10" height="16.00" fill="#3e3e3e"/><rect x="739.68" y="318.65" width="17.50" height="17.40" fill="#363636"/><rect x="740.38" y="319.35" width="16.10" height="16.00" fill="#3e3e3e"/><rect x="516.30" y="341.54" width="17.50" height="17.40" fill="#363636"/><rect x="517.00" y="342.24" width="16.10" height="16.00" fill="#3e3e3e"/><rect x="541.12" y="341.54" width="17.50" height="17.40" fill="#363636"/><rect x="541.82" y="342.24" width="16.10" height="16.00" fill="#3e3e3e"/><rect x="565.94" y="341.54" width="17.50" height="17.40" fill="#363636"/><rect x="566.64" y="342.24" width="16.10" height="16.00" fill="#3e3e3e"/><rect x="590.76" y="341.54" width="17.50" height="17.40" fill="#363636"/><rect x="591.46" y="342.24" width="16.10" height="16.00" fill="#3e3e3e"/><rect x="615.58" y="341.54" width="17.50" height="17.40" fill="#363636"/><rect x="616.28" y="342.24" width="16.10" height="16.00" fill="#3e3e3e"/><rect x="640.40" y="341.54" width="17.50" height="17.40" fill="#363636"/><rect x="641.10" y="342.24" width="16.10" height="16.00" fill="#3e3e3e"/><rect x="665.22" y="341.54" width="17.50" height="17.40" fill="#363636"/><rect x="665.92" y="342.24" width="16.10" height="16.00" fill="#3e3e3e"/><rect x="690.04" y="341.54" width="17.50" height="17.40" fill="#363636"/><rect x="690.74" y="342.24" width="16.10" height="16.00" fill="#3e3e3e"/><rect x="714.86" y="341.54" width="17.50" height="17.40" fill="#363636"/><rect x="715.56" y="342.24" width="16.10" height="16.00" fill="#3e3e3e"/><rect x="739.68" y="341.54" width="17.50" height="17.40" fill="#363636"/><rect x="740.38" y="342.24" width="16.10" height="16.00" fill="#3e3e3e"/><rect x="516.30" y="364.43" width="17.50" height="17.40" fill="#363636"/><rect x="517.00" y="365.13" width="16.10" height="16.00" fill="#3e3e3e"/><rect x="541.12" y="364.43" width="17.50" height="17.40" fill="#363636"/><rect x="541.82" y="365.13" width="16.10" height="16.00" fill="#3e3e3e"/><rect x="565.94" y="364.43" width="17.50" height="17.40" fill="#363636"/><rect x="566.64" y="365.13" width="16.10" height="16.00" fill="#3e3e3e"/><rect x="590.76" y="364.43" width="17.50" height="17.40" fill="#363636"/><rect x="591.46" y="365.13" width="16.10" height="16.00" fill="#3e3e3e"/><rect x="615.58" y="364.43" width="17.50" height="17.40" fill="#363636"/><rect x="616.28" y="365.13" width="16.10" height="16.00" fill="#3e3e3e"/><rect x="640.40" y="364.43" width="17.50" height="17.40" fill="#363636"/><rect x="641.10" y="365.13" width="16.10" height="16.00" fill="#3e3e3e"/><rect x="665.22" y="364.43" width="17.50" height="17.40" fill="#363636"/><rect x="665.92" y="365.13" width="16.10" height="16.00" fill="#3e3e3e"/><rect x="690.04" y="364.43" width="17.50" height="17.40" fill="#363636"/><rect x="690.74" y="365.13" width="16.10" height="16.00" fill="#3e3e3e"/><rect x="714.86" y="364.43" width="17.50" height="17.40" fill="#363636"/><rect x="715.56" y="365.13" width="16.10" height="16.00" fill="#3e3e3e"/><rect x="739.68" y="364.43" width="17.50" height="17.40" fill="#363636"/><rect x="740.38" y="365.13" width="16.10" height="16.00" fill="#3e3e3e"/><rect x="516.30" y="387.32" width="17.50" height="17.40" fill="#363636"/><rect x="517.00" y="388.02" width="16.10" height="16.00" fill="#3e3e3e"/><rect x="541.12" y="387.32" width="17.50" height="17.40" fill="#363636"/><rect x="541.82" y="388.02" width="16.10" height="16.00" fill="#3e3e3e"/><rect x="565.94" y="387.32" width="17.50" height="17.40" fill="#363636"/><rect x="566.64" y="388.02" width="16.10" height="16.00" fill="#3e3e3e"/><rect x="590.76" y="387.32" width="17.50" height="17.40" fill="#363636"/><rect x="591.46" y="388.02" width="16.10" height="16.00" fill="#3e3e3e"/><rect x="615.58" y="387.32" width="17.50" height="17.40" fill="#363636"/><rect x="616.28" y="388.02" width="16.10" height="16.00" fill="#3e3e3e"/><rect x="640.40" y="387.32" width="17.50" height="17.40" fill="#363636"/><rect x="641.10" y="388.02" width="16.10" height="16.00" fill="#3e3e3e"/><rect x="665.22" y="387.32" width="17.50" height="17.40" fill="#363636"/><rect x="665.92" y="388.02" width="16.10" height="16.00" fill="#3e3e3e"/><rect x="690.04" y="387.32" width="17.50" height="17.40" fill="#363636"/><rect x="690.74" y="388.02" width="16.10" height="16.00" fill="#3e3e3e"/><rect x="714.86" y="387.32" width="17.50" height="17.40" fill="#363636"/><rect x="715.56" y="388.02" width="16.10" height="16.00" fill="#3e3e3e"/><rect x="739.68" y="387.32" width="17.50" height="17.40" fill="#363636"/><rect x="740.38" y="388.02" width="16.10" height="16.00" fill="#3e3e3e"/><rect x="516.30" y="410.21" width="17.50" height="17.40" fill="#363636"/><rect x="517.00" y="410.91" width="16.10" height="16.00" fill="#3e3e3e"/><rect x="541.12" y="410.21" width="17.50" height="17.40" fill="#363636"/><rect x="541.82" y="410.91" width="16.10" height="16.00" fill="#3e3e3e"/><rect x="565.94" y="410.21" width="17.50" height="17.40" fill="#363636"/><rect x="566.64" y="410.91" width="16.10" height="16.00" fill="#3e3e3e"/><rect x="590.76" y="410.21" width="17.50" height="17.40" fill="#363636"/><rect x="591.46" y="410.91" width="16.10" height="16.00" fill="#3e3e3e"/><rect x="615.58" y="410.21" width="17.50" height="17.40" fill="#363636"/><rect x="616.28" y="410.91" width="16.10" height="16.00" fill="#3e3e3e"/><rect x="640.40" y="410.21" width="17.50" height="17.40" fill="#363636"/><rect x="641.10" y="410.91" width="16.10" height="16.00" fill="#3e3e3e"/><rect x="665.22" y="410.21" width="17.50" height="17.40" fill="#363636"/><rect x="665.92" y="410.91" width="16.10" height="16.00" fill="#3e3e3e"/><rect x="690.04" y="410.21" width="17.50" height="17.40" fill="#363636"/><rect x="690.74" y="410.91" width="16.10" height="16.00" fill="#3e3e3e"/><rect x="714.86" y="410.21" width="17.50" height="17.40" fill="#363636"/><rect x="715.56" y="410.91" width="16.10" height="16.00" fill="#3e3e3e"/><rect x="739.68" y="410.21" width="17.50" height="17.40" fill="#363636"/><rect x="740.38" y="410.91" width="16.10" height="16.00" fill="#3e3e3e"/></g>
<g transform="translate(483,0) scale(1.19,1) translate(-483,0)">
<path d="M463.67 217.5 H468.71 C478.38 217.5 483.00 225 483.00 238.5 V282 C483.00 292 488.04 299 495.61 300.2 C488.04 301.4 483.00 308 483.00 318 V363.5 C483.00 377 478.38 384.5 468.71 384.5 H463.67" fill="none" stroke="#fff" stroke-width="12" stroke-linecap="round" stroke-linejoin="bevel" opacity="1" filter="url(#bl)"/>
<ellipse cx="495.18" cy="300.2" rx="3.5" ry="6" fill="#fff" filter="url(#bl)"/>
<path d="M463.67 217.5 H468.71 C478.38 217.5 483.00 225 483.00 238.5 V282 C483.00 292 488.04 299 495.61 300.2 C488.04 301.4 483.00 308 483.00 318 V363.5 C483.00 377 478.38 384.5 468.71 384.5 H463.67" fill="none" stroke="#3e3e3e" stroke-width="4.8" stroke-linejoin="bevel"/>
</g>
</svg>
<h1 class="t" style="left:104.71px;top:37.97px;font-size:36.3px;line-height:36.3px;transform:scaleX(0.8144);color:#3d3d3d;font-weight:bold;letter-spacing:0.6px;-webkit-text-stroke:0.75px #3d3d3d;">8% of all mines are delinquent, but 11% of all</h1>
<h1 class="t" style="left:105.56px;top:74.17px;font-size:36.3px;line-height:36.3px;transform:scaleX(0.8051);color:#3d3d3d;font-weight:bold;letter-spacing:0.6px;-webkit-text-stroke:0.75px #3d3d3d;">coal mines are delinquent.</h1>
<div class="t" style="left:104.52px;top:137.42px;font-size:17.7px;line-height:17.7px;transform:scaleX(0.8197);color:#8a8a8a;font-weight:bold;letter-spacing:0.3px;-webkit-text-stroke:0.55px #8a8a8a;">All Mines</div>
<div class="t" style="left:103.79px;top:164.03px;font-size:13.2px;line-height:13.2px;transform:scaleX(0.8730);color:#cc3333;font-weight:bold;letter-spacing:0.25px;-webkit-text-stroke:0.42px #cc3333;">All delinquent mines</div>
<div class="t" style="left:103.48px;top:177.83px;font-size:13.2px;line-height:13.2px;transform:scaleX(0.8983);color:#cc3333;font-weight:bold;letter-spacing:0.25px;-webkit-text-stroke:0.42px #cc3333;">(8% of all mines)</div>
<div class="t" style="left:309.52px;top:164.03px;font-size:13.2px;line-height:13.2px;transform:scaleX(0.8673);color:#3d3d3d;font-weight:bold;letter-spacing:0.25px;-webkit-text-stroke:0.42px #3d3d3d;">Coal mines</div>
<div class="t" style="left:309.63px;top:177.83px;font-size:13.2px;line-height:13.2px;transform:scaleX(0.9139);color:#3d3d3d;font-weight:bold;letter-spacing:0.25px;-webkit-text-stroke:0.42px #3d3d3d;">(24% of all mines)</div>
<div class="t" style="left:515.40px;top:137.22px;font-size:17.7px;line-height:17.7px;transform:scaleX(0.8259);color:#3d3d3d;font-weight:bold;letter-spacing:0.3px;-webkit-text-stroke:0.55px #3d3d3d;">Coal mines</div>
<div class="t" style="left:515.62px;top:164.03px;font-size:13.2px;line-height:13.2px;transform:scaleX(0.8689);color:#cc3333;font-weight:bold;letter-spacing:0.25px;-webkit-text-stroke:0.42px #cc3333;">Delinquent coal mines</div>
<div class="t" style="left:515.69px;top:177.83px;font-size:13.2px;line-height:13.2px;transform:scaleX(0.8676);color:#cc3333;font-weight:bold;letter-spacing:0.25px;-webkit-text-stroke:0.42px #cc3333;">(11% of coal mines)</div>
<div class="t" style="left:104.46px;top:562.13px;font-size:12.6px;line-height:12.6px;transform:scaleX(1.0482);color:#444;font-style:italic;">Source: MSHA mine data; MSHA Debt By Age data</div>
<div class="t" style="left:104.60px;top:577.23px;font-size:12.6px;line-height:12.6px;transform:scaleX(1.0339);color:#444;font-style:italic;">Graphic by Alexandra Kanik</div>
</body></html>
